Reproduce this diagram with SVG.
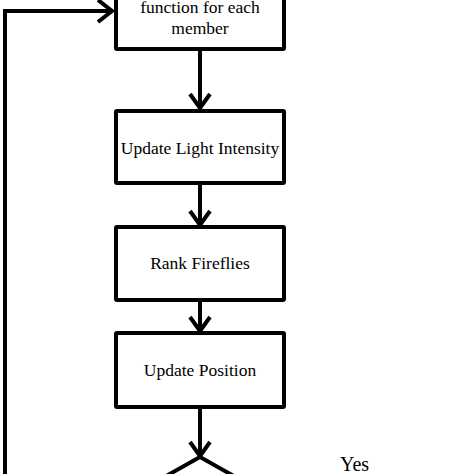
<svg xmlns="http://www.w3.org/2000/svg" width="474" height="474" viewBox="0 0 474 474">
<style>
.box{fill:#fff;stroke:#000;stroke-width:4;stroke-linejoin:round}
.t{font-family:"Liberation Serif","Times New Roman",serif;font-size:17.5px;fill:#000;text-anchor:middle}
.c{fill:none;stroke:#000;stroke-width:4}
.ah{fill:none;stroke:#000;stroke-width:4;stroke-linecap:butt;stroke-linejoin:miter}
</style>
<rect width="474" height="474" fill="#fff"/>
<g id="connectors">
<path class="c" d="M5,474 V11 H112"/>
<path class="ah" d="M98,0 L112,11 L98,22"/>
<path class="c" d="M200,49 V107"/>
<path class="ah" d="M190,94 L200,108 L210,94"/>
<path class="c" d="M200,183 V224"/>
<path class="ah" d="M190,211 L200,225 L210,211"/>
<path class="c" d="M200,300 V330"/>
<path class="ah" d="M190,317 L200,331 L210,317"/>
<path class="c" d="M200,407 V455"/>
<path class="ah" d="M190,442 L200,456 L210,442"/>
</g>
<g id="n1"><rect class="box" x="116" y="-40" width="168" height="89" rx="1"/>
<text class="t" x="200" y="13">function for each</text>
<text class="t" x="200" y="34">member</text></g>
<g id="n2"><rect class="box" x="116" y="111" width="168" height="72" rx="1"/>
<text class="t" x="200" y="154">Update Light Intensity</text></g>
<g id="n3"><rect class="box" x="116" y="227" width="168" height="73" rx="1"/>
<text class="t" x="200" y="269">Rank Fireflies</text></g>
<g id="n4"><rect class="box" x="116" y="333" width="168" height="74" rx="1"/>
<text class="t" x="200" y="376">Update Position</text></g>
<g id="n5"><polygon class="box" points="200,457 280,502 200,547 120,502"/></g>
<text x="340" y="471" style="font-family:'Liberation Serif','Times New Roman',serif;font-size:20px">Yes</text>
</svg>
